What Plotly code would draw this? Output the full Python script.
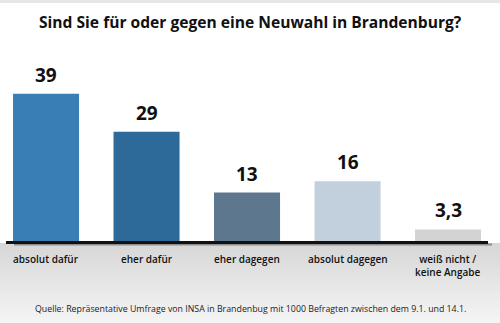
import plotly.graph_objects as go

# Umfrage: Neuwahl in Brandenburg
categories = ["absolut dafür", "eher dafür", "eher dagegen", "absolut dagegen",
              "weiß nicht /<br>keine Angabe"]
values = [39, 29, 13, 16, 3.3]
bar_colors = ["#3a7eb6", "#2e6a99", "#5c778e", "#c1d0dc", "#d3d3d3"]
value_labels = [f"{v:g}".replace(".", ",") for v in values]

title = "Sind Sie für oder gegen eine Neuwahl in Brandenburg?"
source = ("Quelle: Repräsentative Umfrage von INSA in Brandenbug mit 1000 Befragten "
          "zwischen dem 9.1. und 14.1.")

W, H = 500, 323
BASE = 242  # pixel row of the axis baseline


def py(p):
    """Pixel row -> paper y coordinate (plot area spans rows 0..BASE)."""
    return (BASE - p) / BASE


FONT = "Open Sans"
x_idx = list(range(len(categories)))

fig = go.Figure(go.Bar(
    x=x_idx, y=values, width=0.657,
    marker=dict(color=bar_colors, line=dict(width=0)),
    hoverinfo="skip",
))

shapes = []
# grey gradient band under the baseline
top, bottom = 243, H
steps = 40
for i in range(steps):
    t = i / (steps - 1)
    g = int(215 + (245 - 215) * t)
    y0 = top + (bottom - top) * i / steps
    y1 = top + (bottom - top) * (i + 1) / steps + 0.6
    shapes.append(dict(type="rect", xref="paper", yref="paper",
                       x0=0, x1=1, y0=py(y1), y1=py(y0),
                       fillcolor=f"rgb({g},{g},{g})", line=dict(width=0),
                       layer="below"))
# thin strip at the very top
shapes.append(dict(type="rect", xref="paper", yref="paper", x0=0, x1=1,
                   y0=py(3), y1=py(0), fillcolor="#e6e6e6",
                   line=dict(width=0), layer="below"))
# baseline shadow and line
shapes.append(dict(type="line", xref="paper", yref="paper",
                   x0=14 / W, x1=492 / W, y0=py(244.5), y1=py(244.5),
                   line=dict(color="rgba(0,0,0,0.35)", width=2)))
shapes.append(dict(type="line", xref="paper", yref="paper",
                   x0=6 / W, x1=488 / W, y0=py(242.5), y1=py(242.5),
                   line=dict(color="#111111", width=3)))

annotations = [
    dict(text=f"<b>{title}</b>", xref="paper", yref="paper",
         x=0.5, y=py(22), xanchor="center", yanchor="middle", showarrow=False,
         font=dict(family=FONT, size=15.6, color="#111111")),
    dict(text=source, xref="paper", yref="paper",
         x=0.5, y=py(309), xanchor="center", yanchor="middle", showarrow=False,
         font=dict(family=FONT, size=8.8, color="#222222")),
]
for i, (v, lab) in enumerate(zip(values, value_labels)):
    annotations.append(dict(text=f"<b>{lab}</b>", x=i, y=v, xref="x", yref="y",
                            xanchor="center", yanchor="bottom", yshift=4,
                            showarrow=False,
                            font=dict(family=FONT, size=19, color="#111111")))
for i, c in enumerate(categories):
    annotations.append(dict(text=c, x=i, xref="x", yref="paper", y=py(250),
                            xanchor="center", yanchor="top", showarrow=False,
                            font=dict(family=FONT, size=10, weight=600,
                                      color="#111111")))

fig.update_layout(
    width=W, height=H,
    margin=dict(l=0, r=0, t=0, b=H - BASE, pad=0),
    paper_bgcolor="white", plot_bgcolor="rgba(0,0,0,0)",
    showlegend=False,
    xaxis=dict(range=[-0.458, 4.517], visible=False, fixedrange=True),
    yaxis=dict(range=[0, BASE / 3.8], visible=False, fixedrange=True),
    shapes=shapes, annotations=annotations,
)

fig.write_html("out.html", config={"displayModeBar": False})
